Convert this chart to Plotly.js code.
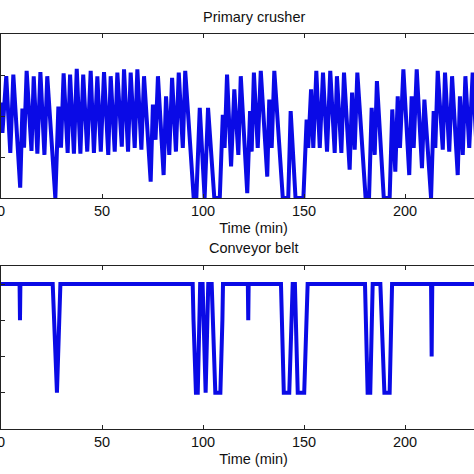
<!DOCTYPE html>
<html>
<head>
<meta charset="utf-8">
<script src="https://cdn.plot.ly/plotly-3.0.1.min.js"></script>
<style>
  html, body { margin: 0; padding: 0; overflow: hidden; background: #fff; }
  #chart { width: 520px; height: 474px; }
</style>
</head>
<body>
<div id="chart"></div>
<script>
// Primary crusher throughput over time (min)
const crusherTime = [
  0, 0.7, 2.6, 4.6, 6.1, 9.5, 10.6, 11.4, 12.7, 15.1,
  16.2, 18.0, 19.5, 21.5, 22.9, 26.9, 28.4, 29.7, 31.0, 33.0,
  34.2, 36.1, 37.5, 39.3, 40.7, 42.7, 44.4, 46.0, 47.7, 49.4,
  51.0, 53.1, 54.3, 56.3, 57.6, 59.8, 60.9, 62.9, 64.2, 66.2,
  67.5, 69.5, 70.8, 74.1, 75.2, 76.5, 77.7, 80.5, 81.7, 83.3,
  84.7, 86.6, 88.0, 90.0, 91.2, 95.4, 96.7, 98.4, 100.8, 102.5,
  105.6, 108.3, 109.8, 110.7, 111.9, 113.9, 115.5, 117.5, 118.7, 121.9,
  123.3, 124.1, 125.2, 127.1, 128.6, 131.8, 132.8, 134.0, 135.3, 139.5,
  142.2, 143.4, 145.8, 149.7, 151.3, 152.1, 153.5, 154.6, 156.1, 157.8,
  159.4, 161.4, 163.0, 165.2, 166.3, 168.5, 169.8, 172.6, 173.8, 175.1,
  176.4, 180.5, 182.2, 183.5, 185.0, 186.1, 189.5, 192.4, 193.7, 195.2,
  196.4, 197.5, 199.2, 202.1, 203.3, 204.3, 205.8, 208.4, 209.6, 212.9,
  214.2, 215.0, 216.2, 218.7, 219.8, 221.9, 223.3, 226.1, 227.2, 228.6,
  229.9, 231.8, 233.5, 235.5
];
const crusherLoad = [
  2.33, 1.59, 2.97, 1.10, 3.01, 0.25, 2.18, 1.23, 3.10, 1.15,
  2.97, 1.08, 3.07, 1.05, 2.97, 0, 2.23, 1.23, 3.04, 1.10,
  3.01, 1.08, 3.15, 1.08, 3.01, 1.13, 3.10, 1.10, 2.97, 1.13,
  3.07, 1.05, 2.97, 1.13, 3.06, 1.25, 3.14, 1.13, 3.06, 1.22,
  3.14, 1.18, 2.97, 0.40, 2.28, 1.42, 2.97, 0.56, 2.48, 1.05,
  2.93, 1.13, 3.06, 1.22, 3.10, 0, 0, 2.20, 0, 2.20,
  0, 0, 2.03, 1.22, 3.01, 0.77, 2.65, 1.05, 2.97, 0.12,
  2.12, 1.13, 3.06, 1.22, 3.10, 0.52, 2.40, 1.22, 3.10, 0,
  0, 2.12, 0, 0, 1.91, 1.22, 2.65, 1.22, 3.10, 1.22,
  3.06, 1.13, 3.10, 1.10, 2.97, 1.10, 3.06, 0.69, 2.57, 1.18,
  3.06, 0, 0, 2.20, 1.05, 2.85, 0, 0, 2.16, 0.64,
  2.48, 1.22, 3.14, 0.56, 2.48, 1.22, 3.14, 0.73, 2.40, 0,
  2.12, 1.22, 3.10, 1.18, 3.06, 1.13, 2.97, 0.56, 2.48, 1.05,
  2.97, 1.22, 3.06, 1.15
];

// Conveyor belt level over time (min)
const conveyorTime = [
  0, 9.2, 9.4, 9.6, 25.6, 27.5, 27.7, 29.4,
  94.9, 95.3, 96.5, 97.4, 98.4, 98.6, 99.8, 101.1, 101.3, 102.6,
  104.3, 106.1, 108.6, 109.6, 109.9,
  122.2, 122.4, 122.6,
  138.6, 139.0, 140.0, 142.7, 144.4, 145.5, 146.9, 150.1, 151.5, 151.8,
  180.2, 181.5, 182.8, 184.0, 187.8, 189.8, 192.4, 193.6,
  212.9, 213.2, 213.5, 250
];
const conveyorLoad = [
  4, 4, 3, 4, 4, 1, 1, 4,
  4, 3, 1, 1, 3, 4, 4, 1, 1, 4,
  4, 1, 1, 3, 4,
  4, 3, 4,
  4, 3, 1, 1, 4, 4, 1, 1, 3, 4,
  4, 1, 1, 4, 4, 1, 1, 4,
  4, 2, 4, 4
];

const timeTicks = [0, 50, 100, 150, 200];
const panelTitles = ['Primary crusher', 'Conveyor belt'];
const timeLabel = 'Time (min)';

const lineColor = '#0a0ae6';
const textFont = { family: 'Liberation Sans, Arial, sans-serif', size: 14.5, color: '#111' };

const xBase = {
  range: [0, 250],
  tickvals: timeTicks,
  ticktext: timeTicks.map(String),
  ticks: 'inside',
  ticklen: 4,
  tickcolor: '#222',
  showline: true,
  linecolor: '#222',
  linewidth: 1,
  mirror: 'ticks',
  showgrid: false,
  zeroline: false,
  tickfont: textFont,
  ticklabeloverflow: 'allow',
  title: { text: timeLabel, font: textFont, standoff: 4 }
};
const yBase = {
  ticks: 'inside',
  ticklen: 4,
  tickcolor: '#222',
  showline: true,
  linecolor: '#222',
  linewidth: 1,
  mirror: 'ticks',
  showgrid: false,
  zeroline: false,
  dtick: 1,
  showticklabels: false
};

const traces = [
  {
    x: crusherTime, y: crusherLoad, xaxis: 'x', yaxis: 'y',
    type: 'scatter', mode: 'lines',
    line: { color: lineColor, width: 4 }
  },
  {
    x: conveyorTime, y: conveyorLoad, xaxis: 'x2', yaxis: 'y2',
    type: 'scatter', mode: 'lines',
    line: { color: lineColor, width: 4 }
  }
];

const layout = {
  width: 520,
  height: 474,
  margin: { l: 1, r: 14, t: 34, b: 45 },
  paper_bgcolor: '#fff',
  plot_bgcolor: '#fff',
  showlegend: false,
  font: textFont,
  xaxis: Object.assign({}, xBase, { anchor: 'y' }),
  yaxis: Object.assign({}, yBase, { domain: [0.5848, 1], range: [0, 4], anchor: 'x' }),
  xaxis2: Object.assign({}, xBase, { anchor: 'y2' }),
  yaxis2: Object.assign({}, yBase, { domain: [0, 0.4127], range: [0, 4.5], anchor: 'x2' }),
  annotations: [
    { text: panelTitles[0], xref: 'paper', yref: 'paper', x: 0.5, y: 1.043,
      xanchor: 'center', yanchor: 'middle', showarrow: false, font: textFont },
    { text: panelTitles[1], xref: 'paper', yref: 'paper', x: 0.5, y: 0.4582,
      xanchor: 'center', yanchor: 'middle', showarrow: false, font: textFont }
  ]
};

Plotly.newPlot('chart', traces, layout, { displayModeBar: false, staticPlot: true });
</script>
</body>
</html>
